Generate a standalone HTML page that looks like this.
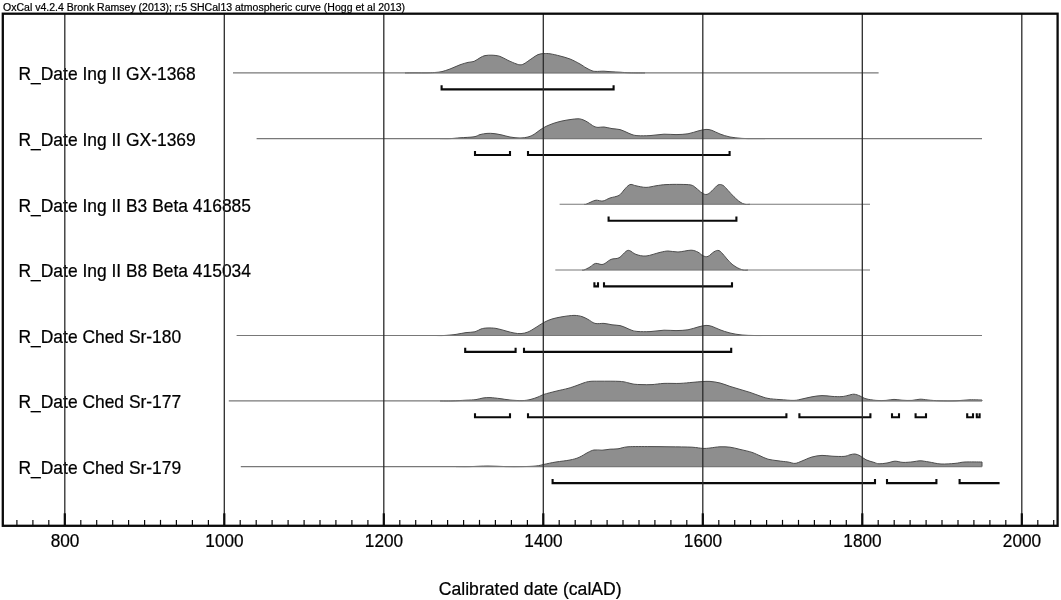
<!DOCTYPE html>
<html lang="en">
<head>
<meta charset="utf-8">
<title>OxCal multiplot</title>
<style>
html,body{margin:0;padding:0;background:#fff;}
body{width:1061px;height:600px;overflow:hidden;}
svg{display:block;filter:blur(0.35px);}
text{font-family:"Liberation Sans", Arial, Helvetica, sans-serif;fill:#000;stroke:#000;stroke-width:0.22px;}
</style>
</head>
<body>
<svg width="1061" height="600" viewBox="0 0 1061 600">
<rect x="0" y="0" width="1061" height="600" fill="#fff"/>
<g>
<path d="M405.0,72.9C406.7,72.9 411.2,72.8 415.0,72.8C418.8,72.8 424.5,72.9 428.0,72.8C431.5,72.7 433.7,72.6 436.0,72.4C438.3,72.2 439.7,72.2 442.0,71.6C444.3,71.0 447.0,70.1 450.0,69.0C453.0,67.9 457.0,65.9 460.0,64.8C463.0,63.7 465.7,63.0 468.0,62.4C470.3,61.8 472.0,62.2 474.0,61.4C476.0,60.6 478.2,58.8 480.0,57.8C481.8,56.8 483.0,56.0 485.0,55.6C487.0,55.2 489.5,55.1 492.0,55.2C494.5,55.3 497.3,55.5 500.0,56.4C502.7,57.3 505.3,59.2 508.0,60.4C510.7,61.6 514.0,63.1 516.0,63.8C518.0,64.5 518.7,64.8 520.0,64.8C521.3,64.8 522.0,64.9 524.0,63.8C526.0,62.7 529.7,59.9 532.0,58.4C534.3,56.9 536.0,55.4 538.0,54.6C540.0,53.8 542.0,53.7 544.0,53.6C546.0,53.5 547.3,53.4 550.0,53.8C552.7,54.2 556.7,55.1 560.0,56.0C563.3,56.9 566.7,57.7 570.0,59.0C573.3,60.3 577.3,62.5 580.0,64.0C582.7,65.5 584.0,66.7 586.0,67.8C588.0,68.9 590.3,70.2 592.0,70.8C593.7,71.4 594.0,71.3 596.0,71.4C598.0,71.5 601.3,71.1 604.0,71.2C606.7,71.3 609.3,71.6 612.0,71.8C614.7,72.0 617.0,72.0 620.0,72.2C623.0,72.4 625.8,72.7 630.0,72.8C634.2,72.9 642.5,72.9 645.0,72.9L645.0,73.2 L405.0,73.2 Z" fill="#8e8e8e" stroke="none"/>
<path d="M405.0,72.9C406.7,72.9 411.2,72.8 415.0,72.8C418.8,72.8 424.5,72.9 428.0,72.8C431.5,72.7 433.7,72.6 436.0,72.4C438.3,72.2 439.7,72.2 442.0,71.6C444.3,71.0 447.0,70.1 450.0,69.0C453.0,67.9 457.0,65.9 460.0,64.8C463.0,63.7 465.7,63.0 468.0,62.4C470.3,61.8 472.0,62.2 474.0,61.4C476.0,60.6 478.2,58.8 480.0,57.8C481.8,56.8 483.0,56.0 485.0,55.6C487.0,55.2 489.5,55.1 492.0,55.2C494.5,55.3 497.3,55.5 500.0,56.4C502.7,57.3 505.3,59.2 508.0,60.4C510.7,61.6 514.0,63.1 516.0,63.8C518.0,64.5 518.7,64.8 520.0,64.8C521.3,64.8 522.0,64.9 524.0,63.8C526.0,62.7 529.7,59.9 532.0,58.4C534.3,56.9 536.0,55.4 538.0,54.6C540.0,53.8 542.0,53.7 544.0,53.6C546.0,53.5 547.3,53.4 550.0,53.8C552.7,54.2 556.7,55.1 560.0,56.0C563.3,56.9 566.7,57.7 570.0,59.0C573.3,60.3 577.3,62.5 580.0,64.0C582.7,65.5 584.0,66.7 586.0,67.8C588.0,68.9 590.3,70.2 592.0,70.8C593.7,71.4 594.0,71.3 596.0,71.4C598.0,71.5 601.3,71.1 604.0,71.2C606.7,71.3 609.3,71.6 612.0,71.8C614.7,72.0 617.0,72.0 620.0,72.2C623.0,72.4 625.8,72.7 630.0,72.8C634.2,72.9 642.5,72.9 645.0,72.9" fill="none" stroke="#4c4c4c" stroke-width="1" stroke-linejoin="round"/>
<line x1="233.0" y1="72.9" x2="878.6" y2="72.9" stroke="#787878" stroke-width="1.1"/>
<path d="M441.6,85.2 V89.4 H613.6 V85.2" fill="none" stroke="#0a0a0a" stroke-width="2.1"/>
<text transform="translate(18.5,80.1) scale(1.002,1.05)" font-size="17.4">R_Date Ing II GX-1368</text>
</g>
<g>
<path d="M440.0,138.6C441.7,138.6 446.7,138.7 450.0,138.6C453.3,138.5 456.0,138.1 460.0,137.8C464.0,137.5 470.7,137.3 474.0,136.8C477.3,136.3 477.8,135.2 480.0,134.6C482.2,134.0 484.7,133.6 487.0,133.4C489.3,133.2 491.5,133.3 494.0,133.6C496.5,133.9 499.3,134.4 502.0,135.0C504.7,135.6 507.0,136.5 510.0,137.0C513.0,137.5 517.0,138.0 520.0,138.0C523.0,138.0 525.7,137.6 528.0,137.0C530.3,136.4 532.0,135.6 534.0,134.4C536.0,133.2 538.0,131.3 540.0,130.0C542.0,128.7 543.7,127.5 546.0,126.4C548.3,125.3 551.3,124.1 554.0,123.2C556.7,122.3 559.3,121.6 562.0,121.0C564.7,120.4 567.3,120.0 570.0,119.6C572.7,119.2 575.8,118.8 578.0,118.8C580.2,118.8 581.3,119.2 583.0,119.8C584.7,120.4 586.2,121.3 588.0,122.4C589.8,123.5 592.3,125.6 594.0,126.4C595.7,127.2 596.3,127.3 598.0,127.4C599.7,127.5 601.7,126.8 604.0,127.0C606.3,127.2 609.3,128.2 612.0,128.6C614.7,129.0 617.7,129.0 620.0,129.6C622.3,130.2 624.0,131.2 626.0,132.0C628.0,132.8 630.0,134.0 632.0,134.6C634.0,135.2 635.0,135.5 638.0,135.7C641.0,135.9 645.7,135.8 650.0,135.6C654.3,135.3 659.7,134.4 664.0,134.2C668.3,134.0 672.0,134.7 676.0,134.6C680.0,134.5 684.3,134.4 688.0,133.8C691.7,133.2 695.0,131.7 698.0,131.0C701.0,130.3 703.7,129.5 706.0,129.4C708.3,129.3 709.7,129.6 712.0,130.4C714.3,131.2 717.0,132.9 720.0,134.0C723.0,135.1 726.3,136.3 730.0,137.0C733.7,137.7 738.0,138.1 742.0,138.4C746.0,138.7 750.2,138.6 754.0,138.6C757.8,138.6 763.2,138.6 765.0,138.6L765.0,138.9 L440.0,138.9 Z" fill="#8e8e8e" stroke="none"/>
<path d="M440.0,138.6C441.7,138.6 446.7,138.7 450.0,138.6C453.3,138.5 456.0,138.1 460.0,137.8C464.0,137.5 470.7,137.3 474.0,136.8C477.3,136.3 477.8,135.2 480.0,134.6C482.2,134.0 484.7,133.6 487.0,133.4C489.3,133.2 491.5,133.3 494.0,133.6C496.5,133.9 499.3,134.4 502.0,135.0C504.7,135.6 507.0,136.5 510.0,137.0C513.0,137.5 517.0,138.0 520.0,138.0C523.0,138.0 525.7,137.6 528.0,137.0C530.3,136.4 532.0,135.6 534.0,134.4C536.0,133.2 538.0,131.3 540.0,130.0C542.0,128.7 543.7,127.5 546.0,126.4C548.3,125.3 551.3,124.1 554.0,123.2C556.7,122.3 559.3,121.6 562.0,121.0C564.7,120.4 567.3,120.0 570.0,119.6C572.7,119.2 575.8,118.8 578.0,118.8C580.2,118.8 581.3,119.2 583.0,119.8C584.7,120.4 586.2,121.3 588.0,122.4C589.8,123.5 592.3,125.6 594.0,126.4C595.7,127.2 596.3,127.3 598.0,127.4C599.7,127.5 601.7,126.8 604.0,127.0C606.3,127.2 609.3,128.2 612.0,128.6C614.7,129.0 617.7,129.0 620.0,129.6C622.3,130.2 624.0,131.2 626.0,132.0C628.0,132.8 630.0,134.0 632.0,134.6C634.0,135.2 635.0,135.5 638.0,135.7C641.0,135.9 645.7,135.8 650.0,135.6C654.3,135.3 659.7,134.4 664.0,134.2C668.3,134.0 672.0,134.7 676.0,134.6C680.0,134.5 684.3,134.4 688.0,133.8C691.7,133.2 695.0,131.7 698.0,131.0C701.0,130.3 703.7,129.5 706.0,129.4C708.3,129.3 709.7,129.6 712.0,130.4C714.3,131.2 717.0,132.9 720.0,134.0C723.0,135.1 726.3,136.3 730.0,137.0C733.7,137.7 738.0,138.1 742.0,138.4C746.0,138.7 750.2,138.6 754.0,138.6C757.8,138.6 763.2,138.6 765.0,138.6" fill="none" stroke="#4c4c4c" stroke-width="1" stroke-linejoin="round"/>
<line x1="256.6" y1="138.6" x2="982.0" y2="138.6" stroke="#787878" stroke-width="1.1"/>
<path d="M475.0,150.9 V155.0 H510.0 V150.9" fill="none" stroke="#0a0a0a" stroke-width="2.1"/>
<path d="M528.0,150.9 V155.0 H729.6 V150.9" fill="none" stroke="#0a0a0a" stroke-width="2.1"/>
<text transform="translate(18.5,145.8) scale(1.002,1.05)" font-size="17.4">R_Date Ing II GX-1369</text>
</g>
<g>
<path d="M584.0,204.3C584.3,204.3 584.8,204.7 586.0,204.3C587.2,203.9 589.3,202.7 591.0,202.0C592.7,201.3 594.0,200.4 596.0,200.2C598.0,200.0 600.7,201.4 603.0,201.0C605.3,200.6 607.3,198.9 610.0,198.0C612.7,197.1 616.7,196.7 619.0,195.4C621.3,194.1 622.5,191.6 624.0,190.0C625.5,188.4 626.8,186.7 628.0,185.8C629.2,184.9 629.7,184.4 631.0,184.4C632.3,184.4 633.5,185.3 636.0,185.8C638.5,186.3 642.7,187.4 646.0,187.4C649.3,187.4 652.7,186.3 656.0,185.8C659.3,185.3 662.0,184.8 666.0,184.6C670.0,184.4 675.8,184.3 680.0,184.4C684.2,184.5 688.3,184.4 691.0,185.0C693.7,185.6 694.2,186.7 696.0,188.0C697.8,189.3 700.2,191.9 702.0,193.0C703.8,194.1 705.3,194.8 707.0,194.4C708.7,194.0 710.2,192.4 712.0,190.8C713.8,189.2 716.2,185.9 718.0,185.0C719.8,184.1 721.3,184.5 723.0,185.4C724.7,186.3 726.2,188.5 728.0,190.4C729.8,192.3 732.0,194.9 734.0,196.8C736.0,198.7 738.2,200.8 740.0,202.0C741.8,203.2 743.3,203.9 745.0,204.3C746.7,204.7 749.2,204.3 750.0,204.3L750.0,204.6 L584.0,204.6 Z" fill="#8e8e8e" stroke="none"/>
<path d="M584.0,204.3C584.3,204.3 584.8,204.7 586.0,204.3C587.2,203.9 589.3,202.7 591.0,202.0C592.7,201.3 594.0,200.4 596.0,200.2C598.0,200.0 600.7,201.4 603.0,201.0C605.3,200.6 607.3,198.9 610.0,198.0C612.7,197.1 616.7,196.7 619.0,195.4C621.3,194.1 622.5,191.6 624.0,190.0C625.5,188.4 626.8,186.7 628.0,185.8C629.2,184.9 629.7,184.4 631.0,184.4C632.3,184.4 633.5,185.3 636.0,185.8C638.5,186.3 642.7,187.4 646.0,187.4C649.3,187.4 652.7,186.3 656.0,185.8C659.3,185.3 662.0,184.8 666.0,184.6C670.0,184.4 675.8,184.3 680.0,184.4C684.2,184.5 688.3,184.4 691.0,185.0C693.7,185.6 694.2,186.7 696.0,188.0C697.8,189.3 700.2,191.9 702.0,193.0C703.8,194.1 705.3,194.8 707.0,194.4C708.7,194.0 710.2,192.4 712.0,190.8C713.8,189.2 716.2,185.9 718.0,185.0C719.8,184.1 721.3,184.5 723.0,185.4C724.7,186.3 726.2,188.5 728.0,190.4C729.8,192.3 732.0,194.9 734.0,196.8C736.0,198.7 738.2,200.8 740.0,202.0C741.8,203.2 743.3,203.9 745.0,204.3C746.7,204.7 749.2,204.3 750.0,204.3" fill="none" stroke="#4c4c4c" stroke-width="1" stroke-linejoin="round"/>
<line x1="559.6" y1="204.3" x2="870.0" y2="204.3" stroke="#787878" stroke-width="1.1"/>
<path d="M608.6,216.6 V220.8 H736.4 V216.6" fill="none" stroke="#0a0a0a" stroke-width="2.1"/>
<text transform="translate(18.5,211.5) scale(1.002,1.05)" font-size="17.4">R_Date Ing II B3 Beta 416885</text>
</g>
<g>
<path d="M582.0,270.0C582.3,270.0 582.7,270.5 584.0,270.0C585.3,269.5 588.1,268.1 590.0,267.0C591.9,265.9 593.4,263.8 595.6,263.4C597.8,263.0 600.4,265.1 603.0,264.4C605.6,263.7 608.3,260.5 611.0,259.4C613.7,258.3 616.5,259.1 619.0,257.8C621.5,256.5 624.2,252.6 626.0,251.4C627.8,250.2 627.9,250.1 629.6,250.6C631.3,251.1 633.3,253.5 636.0,254.4C638.7,255.3 642.0,256.3 646.0,256.0C650.0,255.7 656.3,253.2 660.0,252.4C663.7,251.6 665.0,251.1 668.0,251.0C671.0,250.9 674.2,252.1 678.0,252.0C681.8,251.9 687.7,250.2 691.0,250.2C694.3,250.2 696.0,251.3 698.0,252.2C700.0,253.1 701.3,255.1 703.0,255.8C704.7,256.5 706.2,257.1 708.0,256.4C709.8,255.7 712.2,252.8 714.0,251.8C715.8,250.8 717.3,250.0 719.0,250.6C720.7,251.2 722.2,253.4 724.0,255.4C725.8,257.4 728.0,260.5 730.0,262.4C732.0,264.3 733.8,265.7 736.0,267.0C738.2,268.3 741.0,269.5 743.0,270.0C745.0,270.5 747.2,270.0 748.0,270.0L748.0,270.3 L582.0,270.3 Z" fill="#8e8e8e" stroke="none"/>
<path d="M582.0,270.0C582.3,270.0 582.7,270.5 584.0,270.0C585.3,269.5 588.1,268.1 590.0,267.0C591.9,265.9 593.4,263.8 595.6,263.4C597.8,263.0 600.4,265.1 603.0,264.4C605.6,263.7 608.3,260.5 611.0,259.4C613.7,258.3 616.5,259.1 619.0,257.8C621.5,256.5 624.2,252.6 626.0,251.4C627.8,250.2 627.9,250.1 629.6,250.6C631.3,251.1 633.3,253.5 636.0,254.4C638.7,255.3 642.0,256.3 646.0,256.0C650.0,255.7 656.3,253.2 660.0,252.4C663.7,251.6 665.0,251.1 668.0,251.0C671.0,250.9 674.2,252.1 678.0,252.0C681.8,251.9 687.7,250.2 691.0,250.2C694.3,250.2 696.0,251.3 698.0,252.2C700.0,253.1 701.3,255.1 703.0,255.8C704.7,256.5 706.2,257.1 708.0,256.4C709.8,255.7 712.2,252.8 714.0,251.8C715.8,250.8 717.3,250.0 719.0,250.6C720.7,251.2 722.2,253.4 724.0,255.4C725.8,257.4 728.0,260.5 730.0,262.4C732.0,264.3 733.8,265.7 736.0,267.0C738.2,268.3 741.0,269.5 743.0,270.0C745.0,270.5 747.2,270.0 748.0,270.0" fill="none" stroke="#4c4c4c" stroke-width="1" stroke-linejoin="round"/>
<line x1="555.3" y1="270.0" x2="870.0" y2="270.0" stroke="#787878" stroke-width="1.1"/>
<path d="M594.4,282.3 V286.4 H598.0 V282.3" fill="none" stroke="#0a0a0a" stroke-width="2.1"/>
<path d="M604.0,282.3 V286.4 H732.0 V282.3" fill="none" stroke="#0a0a0a" stroke-width="2.1"/>
<text transform="translate(18.5,277.1) scale(1.002,1.05)" font-size="17.4">R_Date Ing II B8 Beta 415034</text>
</g>
<g>
<path d="M435.0,335.5C436.5,335.5 440.5,335.7 444.0,335.5C447.5,335.3 452.3,334.9 456.0,334.4C459.7,333.9 462.8,333.0 466.0,332.6C469.2,332.2 472.5,332.4 475.0,331.8C477.5,331.2 479.0,329.6 481.0,329.0C483.0,328.4 484.5,328.1 487.0,328.0C489.5,327.9 492.8,327.9 496.0,328.4C499.2,328.9 503.0,330.2 506.0,331.0C509.0,331.8 511.5,332.6 514.0,333.0C516.5,333.4 518.7,333.8 521.0,333.6C523.3,333.4 525.5,333.0 528.0,332.0C530.5,331.0 533.3,329.0 536.0,327.4C538.7,325.8 541.3,323.8 544.0,322.4C546.7,321.0 549.0,319.9 552.0,319.0C555.0,318.1 558.3,317.4 562.0,316.8C565.7,316.2 570.7,315.4 574.0,315.4C577.3,315.4 579.7,315.9 582.0,316.6C584.3,317.3 585.8,318.3 588.0,319.4C590.2,320.5 592.3,322.7 595.0,323.4C597.7,324.1 601.2,323.2 604.0,323.4C606.8,323.6 609.3,324.4 612.0,324.8C614.7,325.2 617.7,325.1 620.0,325.6C622.3,326.1 624.0,327.0 626.0,327.8C628.0,328.6 630.0,329.8 632.0,330.4C634.0,331.0 635.0,331.3 638.0,331.5C641.0,331.7 645.7,331.8 650.0,331.6C654.3,331.4 659.7,330.4 664.0,330.2C668.3,330.0 672.0,330.7 676.0,330.6C680.0,330.5 684.3,330.4 688.0,329.8C691.7,329.2 695.0,327.7 698.0,327.0C701.0,326.3 703.7,325.5 706.0,325.4C708.3,325.3 709.7,325.7 712.0,326.4C714.3,327.1 717.0,328.7 720.0,329.8C723.0,330.9 726.3,332.1 730.0,333.0C733.7,333.9 738.0,334.6 742.0,335.0C746.0,335.4 750.2,335.4 754.0,335.5C757.8,335.6 763.2,335.5 765.0,335.5L765.0,335.8 L435.0,335.8 Z" fill="#8e8e8e" stroke="none"/>
<path d="M435.0,335.5C436.5,335.5 440.5,335.7 444.0,335.5C447.5,335.3 452.3,334.9 456.0,334.4C459.7,333.9 462.8,333.0 466.0,332.6C469.2,332.2 472.5,332.4 475.0,331.8C477.5,331.2 479.0,329.6 481.0,329.0C483.0,328.4 484.5,328.1 487.0,328.0C489.5,327.9 492.8,327.9 496.0,328.4C499.2,328.9 503.0,330.2 506.0,331.0C509.0,331.8 511.5,332.6 514.0,333.0C516.5,333.4 518.7,333.8 521.0,333.6C523.3,333.4 525.5,333.0 528.0,332.0C530.5,331.0 533.3,329.0 536.0,327.4C538.7,325.8 541.3,323.8 544.0,322.4C546.7,321.0 549.0,319.9 552.0,319.0C555.0,318.1 558.3,317.4 562.0,316.8C565.7,316.2 570.7,315.4 574.0,315.4C577.3,315.4 579.7,315.9 582.0,316.6C584.3,317.3 585.8,318.3 588.0,319.4C590.2,320.5 592.3,322.7 595.0,323.4C597.7,324.1 601.2,323.2 604.0,323.4C606.8,323.6 609.3,324.4 612.0,324.8C614.7,325.2 617.7,325.1 620.0,325.6C622.3,326.1 624.0,327.0 626.0,327.8C628.0,328.6 630.0,329.8 632.0,330.4C634.0,331.0 635.0,331.3 638.0,331.5C641.0,331.7 645.7,331.8 650.0,331.6C654.3,331.4 659.7,330.4 664.0,330.2C668.3,330.0 672.0,330.7 676.0,330.6C680.0,330.5 684.3,330.4 688.0,329.8C691.7,329.2 695.0,327.7 698.0,327.0C701.0,326.3 703.7,325.5 706.0,325.4C708.3,325.3 709.7,325.7 712.0,326.4C714.3,327.1 717.0,328.7 720.0,329.8C723.0,330.9 726.3,332.1 730.0,333.0C733.7,333.9 738.0,334.6 742.0,335.0C746.0,335.4 750.2,335.4 754.0,335.5C757.8,335.6 763.2,335.5 765.0,335.5" fill="none" stroke="#4c4c4c" stroke-width="1" stroke-linejoin="round"/>
<line x1="236.6" y1="335.5" x2="982.0" y2="335.5" stroke="#787878" stroke-width="1.1"/>
<path d="M465.2,347.8 V351.9 H515.6 V347.8" fill="none" stroke="#0a0a0a" stroke-width="2.1"/>
<path d="M524.0,347.8 V351.9 H731.2 V347.8" fill="none" stroke="#0a0a0a" stroke-width="2.1"/>
<text transform="translate(18.5,342.6) scale(1.002,1.05)" font-size="17.4">R_Date Ched Sr-180</text>
</g>
<g>
<path d="M440.0,400.9C442.0,400.9 447.7,401.0 452.0,400.9C456.3,400.8 462.0,400.4 466.0,400.2C470.0,400.0 473.2,400.0 476.0,399.6C478.8,399.2 480.7,398.3 483.0,398.0C485.3,397.7 487.2,397.5 490.0,397.6C492.8,397.7 496.7,398.2 500.0,398.6C503.3,399.0 506.3,399.7 510.0,400.0C513.7,400.3 518.7,400.7 522.0,400.6C525.3,400.5 527.3,400.2 530.0,399.6C532.7,399.0 535.7,397.9 538.0,397.0C540.3,396.1 541.0,395.4 544.0,394.4C547.0,393.4 552.0,392.2 556.0,391.2C560.0,390.2 564.7,389.3 568.0,388.4C571.3,387.5 573.3,386.7 576.0,385.8C578.7,384.9 581.7,383.5 584.0,382.8C586.3,382.1 587.3,381.7 590.0,381.4C592.7,381.1 595.0,381.2 600.0,381.2C605.0,381.2 615.3,381.1 620.0,381.4C624.7,381.7 625.7,382.3 628.0,382.8C630.3,383.3 631.7,383.9 634.0,384.2C636.3,384.5 639.0,384.5 642.0,384.6C645.0,384.7 648.3,384.8 652.0,384.6C655.7,384.4 659.3,383.6 664.0,383.4C668.7,383.2 675.3,383.6 680.0,383.4C684.7,383.2 688.3,382.7 692.0,382.4C695.7,382.1 699.0,381.8 702.0,381.6C705.0,381.4 707.0,381.2 710.0,381.4C713.0,381.6 716.7,382.2 720.0,383.0C723.3,383.8 726.7,385.3 730.0,386.4C733.3,387.5 736.7,388.4 740.0,389.4C743.3,390.4 746.7,391.3 750.0,392.4C753.3,393.5 757.0,395.0 760.0,396.0C763.0,397.0 764.7,397.8 768.0,398.4C771.3,399.0 775.7,399.3 780.0,399.6C784.3,399.9 790.3,400.5 794.0,400.4C797.7,400.3 799.0,399.6 802.0,399.0C805.0,398.4 808.7,397.4 812.0,396.8C815.3,396.2 818.7,395.7 822.0,395.6C825.3,395.5 828.7,396.2 832.0,396.4C835.3,396.6 839.3,396.8 842.0,396.6C844.7,396.4 846.0,395.8 848.0,395.4C850.0,395.0 852.0,394.1 854.0,394.2C856.0,394.3 858.0,395.2 860.0,396.0C862.0,396.8 863.3,398.1 866.0,398.8C868.7,399.5 872.7,400.1 876.0,400.4C879.3,400.7 883.0,400.6 886.0,400.4C889.0,400.2 891.3,399.4 894.0,399.4C896.7,399.4 899.0,400.0 902.0,400.2C905.0,400.4 909.0,400.6 912.0,400.4C915.0,400.2 917.3,399.3 920.0,399.2C922.7,399.1 924.7,399.7 928.0,400.0C931.3,400.3 935.3,400.7 940.0,400.8C944.7,400.9 951.0,401.0 956.0,400.8C961.0,400.6 965.7,399.9 970.0,399.8C974.3,399.7 980.0,400.0 982.0,400.0L982.0,401.2 L440.0,401.2 Z" fill="#8e8e8e" stroke="none"/>
<path d="M440.0,400.9C442.0,400.9 447.7,401.0 452.0,400.9C456.3,400.8 462.0,400.4 466.0,400.2C470.0,400.0 473.2,400.0 476.0,399.6C478.8,399.2 480.7,398.3 483.0,398.0C485.3,397.7 487.2,397.5 490.0,397.6C492.8,397.7 496.7,398.2 500.0,398.6C503.3,399.0 506.3,399.7 510.0,400.0C513.7,400.3 518.7,400.7 522.0,400.6C525.3,400.5 527.3,400.2 530.0,399.6C532.7,399.0 535.7,397.9 538.0,397.0C540.3,396.1 541.0,395.4 544.0,394.4C547.0,393.4 552.0,392.2 556.0,391.2C560.0,390.2 564.7,389.3 568.0,388.4C571.3,387.5 573.3,386.7 576.0,385.8C578.7,384.9 581.7,383.5 584.0,382.8C586.3,382.1 587.3,381.7 590.0,381.4C592.7,381.1 595.0,381.2 600.0,381.2C605.0,381.2 615.3,381.1 620.0,381.4C624.7,381.7 625.7,382.3 628.0,382.8C630.3,383.3 631.7,383.9 634.0,384.2C636.3,384.5 639.0,384.5 642.0,384.6C645.0,384.7 648.3,384.8 652.0,384.6C655.7,384.4 659.3,383.6 664.0,383.4C668.7,383.2 675.3,383.6 680.0,383.4C684.7,383.2 688.3,382.7 692.0,382.4C695.7,382.1 699.0,381.8 702.0,381.6C705.0,381.4 707.0,381.2 710.0,381.4C713.0,381.6 716.7,382.2 720.0,383.0C723.3,383.8 726.7,385.3 730.0,386.4C733.3,387.5 736.7,388.4 740.0,389.4C743.3,390.4 746.7,391.3 750.0,392.4C753.3,393.5 757.0,395.0 760.0,396.0C763.0,397.0 764.7,397.8 768.0,398.4C771.3,399.0 775.7,399.3 780.0,399.6C784.3,399.9 790.3,400.5 794.0,400.4C797.7,400.3 799.0,399.6 802.0,399.0C805.0,398.4 808.7,397.4 812.0,396.8C815.3,396.2 818.7,395.7 822.0,395.6C825.3,395.5 828.7,396.2 832.0,396.4C835.3,396.6 839.3,396.8 842.0,396.6C844.7,396.4 846.0,395.8 848.0,395.4C850.0,395.0 852.0,394.1 854.0,394.2C856.0,394.3 858.0,395.2 860.0,396.0C862.0,396.8 863.3,398.1 866.0,398.8C868.7,399.5 872.7,400.1 876.0,400.4C879.3,400.7 883.0,400.6 886.0,400.4C889.0,400.2 891.3,399.4 894.0,399.4C896.7,399.4 899.0,400.0 902.0,400.2C905.0,400.4 909.0,400.6 912.0,400.4C915.0,400.2 917.3,399.3 920.0,399.2C922.7,399.1 924.7,399.7 928.0,400.0C931.3,400.3 935.3,400.7 940.0,400.8C944.7,400.9 951.0,401.0 956.0,400.8C961.0,400.6 965.7,399.9 970.0,399.8C974.3,399.7 980.0,400.0 982.0,400.0L982.0,400.9" fill="none" stroke="#4c4c4c" stroke-width="1" stroke-linejoin="round"/>
<line x1="228.8" y1="400.9" x2="982.0" y2="400.9" stroke="#787878" stroke-width="1.1"/>
<path d="M475.0,413.2 V417.3 H510.0 V413.2" fill="none" stroke="#0a0a0a" stroke-width="2.1"/>
<path d="M528.0,413.2 V417.3 H786.4 V413.2" fill="none" stroke="#0a0a0a" stroke-width="2.1"/>
<path d="M799.4,413.2 V417.3 H870.4 V413.2" fill="none" stroke="#0a0a0a" stroke-width="2.1"/>
<path d="M892.0,413.2 V417.3 H899.0 V413.2" fill="none" stroke="#0a0a0a" stroke-width="2.1"/>
<path d="M915.6,413.2 V417.3 H926.0 V413.2" fill="none" stroke="#0a0a0a" stroke-width="2.1"/>
<path d="M967.2,413.2 V417.3 H973.0 V413.2" fill="none" stroke="#0a0a0a" stroke-width="2.1"/>
<path d="M976.8,413.2 V417.3 H979.6 V413.2" fill="none" stroke="#0a0a0a" stroke-width="2.1"/>
<text transform="translate(18.5,408.0) scale(1.002,1.05)" font-size="17.4">R_Date Ched Sr-177</text>
</g>
<g>
<path d="M456.0,466.6C458.3,466.6 464.7,466.7 470.0,466.6C475.3,466.5 482.0,466.0 488.0,466.0C494.0,466.0 500.3,466.5 506.0,466.6C511.7,466.7 517.0,466.7 522.0,466.6C527.0,466.5 532.3,466.4 536.0,466.0C539.7,465.6 540.7,465.1 544.0,464.4C547.3,463.7 551.7,462.7 556.0,462.0C560.3,461.3 566.2,460.8 570.0,460.0C573.8,459.2 576.0,458.7 579.0,457.4C582.0,456.1 585.5,453.6 588.0,452.4C590.5,451.2 591.7,450.4 594.0,450.0C596.3,449.6 599.3,450.3 602.0,450.2C604.7,450.1 607.3,449.4 610.0,449.2C612.7,449.0 615.0,449.2 618.0,448.8C621.0,448.4 622.7,447.2 628.0,446.8C633.3,446.4 643.0,446.6 650.0,446.6C657.0,446.6 663.0,446.7 670.0,446.8C677.0,446.9 686.5,446.9 692.0,447.2C697.5,447.5 700.0,448.3 703.0,448.4C706.0,448.5 707.2,448.3 710.0,448.0C712.8,447.7 716.7,446.9 720.0,446.8C723.3,446.7 726.7,446.8 730.0,447.2C733.3,447.6 736.3,448.5 740.0,449.4C743.7,450.3 748.7,451.3 752.0,452.4C755.3,453.5 757.3,454.7 760.0,455.8C762.7,456.9 765.0,458.4 768.0,459.2C771.0,460.0 774.7,460.3 778.0,460.8C781.3,461.3 785.2,461.6 788.0,462.0C790.8,462.4 792.7,463.6 795.0,463.4C797.3,463.2 799.2,462.1 802.0,461.0C804.8,459.9 808.7,457.9 812.0,457.0C815.3,456.1 818.7,455.5 822.0,455.4C825.3,455.3 828.3,456.0 832.0,456.2C835.7,456.4 841.0,456.6 844.0,456.4C847.0,456.2 848.2,455.2 850.0,454.8C851.8,454.4 853.3,453.8 855.0,454.0C856.7,454.2 858.2,454.8 860.0,455.8C861.8,456.8 863.7,458.7 866.0,459.8C868.3,460.9 871.8,461.7 874.0,462.4C876.2,463.1 876.8,463.7 879.0,463.8C881.2,463.9 884.3,463.4 887.0,463.0C889.7,462.6 892.3,461.3 895.0,461.2C897.7,461.1 900.0,462.3 903.0,462.4C906.0,462.5 910.2,462.1 913.0,461.8C915.8,461.5 917.3,460.8 920.0,460.8C922.7,460.8 925.5,461.5 929.0,462.0C932.5,462.5 936.7,463.8 941.0,464.0C945.3,464.2 951.0,463.7 955.0,463.4C959.0,463.1 960.5,462.2 965.0,462.0C969.5,461.8 979.2,462.0 982.0,462.0L982.0,466.9 L456.0,466.9 Z" fill="#8e8e8e" stroke="none"/>
<path d="M456.0,466.6C458.3,466.6 464.7,466.7 470.0,466.6C475.3,466.5 482.0,466.0 488.0,466.0C494.0,466.0 500.3,466.5 506.0,466.6C511.7,466.7 517.0,466.7 522.0,466.6C527.0,466.5 532.3,466.4 536.0,466.0C539.7,465.6 540.7,465.1 544.0,464.4C547.3,463.7 551.7,462.7 556.0,462.0C560.3,461.3 566.2,460.8 570.0,460.0C573.8,459.2 576.0,458.7 579.0,457.4C582.0,456.1 585.5,453.6 588.0,452.4C590.5,451.2 591.7,450.4 594.0,450.0C596.3,449.6 599.3,450.3 602.0,450.2C604.7,450.1 607.3,449.4 610.0,449.2C612.7,449.0 615.0,449.2 618.0,448.8C621.0,448.4 622.7,447.2 628.0,446.8C633.3,446.4 643.0,446.6 650.0,446.6C657.0,446.6 663.0,446.7 670.0,446.8C677.0,446.9 686.5,446.9 692.0,447.2C697.5,447.5 700.0,448.3 703.0,448.4C706.0,448.5 707.2,448.3 710.0,448.0C712.8,447.7 716.7,446.9 720.0,446.8C723.3,446.7 726.7,446.8 730.0,447.2C733.3,447.6 736.3,448.5 740.0,449.4C743.7,450.3 748.7,451.3 752.0,452.4C755.3,453.5 757.3,454.7 760.0,455.8C762.7,456.9 765.0,458.4 768.0,459.2C771.0,460.0 774.7,460.3 778.0,460.8C781.3,461.3 785.2,461.6 788.0,462.0C790.8,462.4 792.7,463.6 795.0,463.4C797.3,463.2 799.2,462.1 802.0,461.0C804.8,459.9 808.7,457.9 812.0,457.0C815.3,456.1 818.7,455.5 822.0,455.4C825.3,455.3 828.3,456.0 832.0,456.2C835.7,456.4 841.0,456.6 844.0,456.4C847.0,456.2 848.2,455.2 850.0,454.8C851.8,454.4 853.3,453.8 855.0,454.0C856.7,454.2 858.2,454.8 860.0,455.8C861.8,456.8 863.7,458.7 866.0,459.8C868.3,460.9 871.8,461.7 874.0,462.4C876.2,463.1 876.8,463.7 879.0,463.8C881.2,463.9 884.3,463.4 887.0,463.0C889.7,462.6 892.3,461.3 895.0,461.2C897.7,461.1 900.0,462.3 903.0,462.4C906.0,462.5 910.2,462.1 913.0,461.8C915.8,461.5 917.3,460.8 920.0,460.8C922.7,460.8 925.5,461.5 929.0,462.0C932.5,462.5 936.7,463.8 941.0,464.0C945.3,464.2 951.0,463.7 955.0,463.4C959.0,463.1 960.5,462.2 965.0,462.0C969.5,461.8 979.2,462.0 982.0,462.0L982.0,466.6" fill="none" stroke="#4c4c4c" stroke-width="1" stroke-linejoin="round"/>
<line x1="240.8" y1="466.6" x2="982.0" y2="466.6" stroke="#787878" stroke-width="1.1"/>
<path d="M552.6,478.9 V483.1 H875.0 V478.9" fill="none" stroke="#0a0a0a" stroke-width="2.1"/>
<path d="M887.0,478.9 V483.1 H936.4 V478.9" fill="none" stroke="#0a0a0a" stroke-width="2.1"/>
<path d="M959.6,478.9 V483.1 H999.6" fill="none" stroke="#0a0a0a" stroke-width="2.1"/>
<text transform="translate(18.5,473.8) scale(1.002,1.05)" font-size="17.4">R_Date Ched Sr-179</text>
</g>
<g stroke="#2b2b2b" stroke-width="1.3">
<line x1="64.8" y1="14" x2="64.8" y2="525.5" />
<line x1="224.3" y1="14" x2="224.3" y2="525.5" />
<line x1="383.8" y1="14" x2="383.8" y2="525.5" />
<line x1="543.3" y1="14" x2="543.3" y2="525.5" />
<line x1="702.8" y1="14" x2="702.8" y2="525.5" />
<line x1="862.3" y1="14" x2="862.3" y2="525.5" />
<line x1="1021.8" y1="14" x2="1021.8" y2="525.5" />
</g>
<rect x="2.8" y="13.7" width="1054.8" height="512.1" fill="none" stroke="#0a0a0a" stroke-width="2.3"/>
<g stroke="#0a0a0a">
<line x1="16.9" y1="519.9" x2="16.9" y2="525.5" stroke-width="1.2"/>
<line x1="32.9" y1="519.9" x2="32.9" y2="525.5" stroke-width="1.2"/>
<line x1="48.8" y1="519.9" x2="48.8" y2="525.5" stroke-width="1.2"/>
<line x1="64.8" y1="513.3" x2="64.8" y2="525.5" stroke-width="2.2"/>
<line x1="80.8" y1="519.9" x2="80.8" y2="525.5" stroke-width="1.2"/>
<line x1="96.7" y1="519.9" x2="96.7" y2="525.5" stroke-width="1.2"/>
<line x1="112.7" y1="519.9" x2="112.7" y2="525.5" stroke-width="1.2"/>
<line x1="128.6" y1="519.9" x2="128.6" y2="525.5" stroke-width="1.2"/>
<line x1="144.6" y1="519.9" x2="144.6" y2="525.5" stroke-width="1.2"/>
<line x1="160.5" y1="519.9" x2="160.5" y2="525.5" stroke-width="1.2"/>
<line x1="176.4" y1="519.9" x2="176.4" y2="525.5" stroke-width="1.2"/>
<line x1="192.4" y1="519.9" x2="192.4" y2="525.5" stroke-width="1.2"/>
<line x1="208.4" y1="519.9" x2="208.4" y2="525.5" stroke-width="1.2"/>
<line x1="224.3" y1="513.3" x2="224.3" y2="525.5" stroke-width="2.2"/>
<line x1="240.2" y1="519.9" x2="240.2" y2="525.5" stroke-width="1.2"/>
<line x1="256.2" y1="519.9" x2="256.2" y2="525.5" stroke-width="1.2"/>
<line x1="272.1" y1="519.9" x2="272.1" y2="525.5" stroke-width="1.2"/>
<line x1="288.1" y1="519.9" x2="288.1" y2="525.5" stroke-width="1.2"/>
<line x1="304.1" y1="519.9" x2="304.1" y2="525.5" stroke-width="1.2"/>
<line x1="320.0" y1="519.9" x2="320.0" y2="525.5" stroke-width="1.2"/>
<line x1="335.9" y1="519.9" x2="335.9" y2="525.5" stroke-width="1.2"/>
<line x1="351.9" y1="519.9" x2="351.9" y2="525.5" stroke-width="1.2"/>
<line x1="367.9" y1="519.9" x2="367.9" y2="525.5" stroke-width="1.2"/>
<line x1="383.8" y1="513.3" x2="383.8" y2="525.5" stroke-width="2.2"/>
<line x1="399.8" y1="519.9" x2="399.8" y2="525.5" stroke-width="1.2"/>
<line x1="415.7" y1="519.9" x2="415.7" y2="525.5" stroke-width="1.2"/>
<line x1="431.6" y1="519.9" x2="431.6" y2="525.5" stroke-width="1.2"/>
<line x1="447.6" y1="519.9" x2="447.6" y2="525.5" stroke-width="1.2"/>
<line x1="463.6" y1="519.9" x2="463.6" y2="525.5" stroke-width="1.2"/>
<line x1="479.5" y1="519.9" x2="479.5" y2="525.5" stroke-width="1.2"/>
<line x1="495.4" y1="519.9" x2="495.4" y2="525.5" stroke-width="1.2"/>
<line x1="511.4" y1="519.9" x2="511.4" y2="525.5" stroke-width="1.2"/>
<line x1="527.4" y1="519.9" x2="527.4" y2="525.5" stroke-width="1.2"/>
<line x1="543.3" y1="513.3" x2="543.3" y2="525.5" stroke-width="2.2"/>
<line x1="559.2" y1="519.9" x2="559.2" y2="525.5" stroke-width="1.2"/>
<line x1="575.2" y1="519.9" x2="575.2" y2="525.5" stroke-width="1.2"/>
<line x1="591.1" y1="519.9" x2="591.1" y2="525.5" stroke-width="1.2"/>
<line x1="607.1" y1="519.9" x2="607.1" y2="525.5" stroke-width="1.2"/>
<line x1="623.0" y1="519.9" x2="623.0" y2="525.5" stroke-width="1.2"/>
<line x1="639.0" y1="519.9" x2="639.0" y2="525.5" stroke-width="1.2"/>
<line x1="654.9" y1="519.9" x2="654.9" y2="525.5" stroke-width="1.2"/>
<line x1="670.9" y1="519.9" x2="670.9" y2="525.5" stroke-width="1.2"/>
<line x1="686.8" y1="519.9" x2="686.8" y2="525.5" stroke-width="1.2"/>
<line x1="702.8" y1="513.3" x2="702.8" y2="525.5" stroke-width="2.2"/>
<line x1="718.8" y1="519.9" x2="718.8" y2="525.5" stroke-width="1.2"/>
<line x1="734.7" y1="519.9" x2="734.7" y2="525.5" stroke-width="1.2"/>
<line x1="750.6" y1="519.9" x2="750.6" y2="525.5" stroke-width="1.2"/>
<line x1="766.6" y1="519.9" x2="766.6" y2="525.5" stroke-width="1.2"/>
<line x1="782.5" y1="519.9" x2="782.5" y2="525.5" stroke-width="1.2"/>
<line x1="798.5" y1="519.9" x2="798.5" y2="525.5" stroke-width="1.2"/>
<line x1="814.4" y1="519.9" x2="814.4" y2="525.5" stroke-width="1.2"/>
<line x1="830.4" y1="519.9" x2="830.4" y2="525.5" stroke-width="1.2"/>
<line x1="846.3" y1="519.9" x2="846.3" y2="525.5" stroke-width="1.2"/>
<line x1="862.3" y1="513.3" x2="862.3" y2="525.5" stroke-width="2.2"/>
<line x1="878.2" y1="519.9" x2="878.2" y2="525.5" stroke-width="1.2"/>
<line x1="894.2" y1="519.9" x2="894.2" y2="525.5" stroke-width="1.2"/>
<line x1="910.1" y1="519.9" x2="910.1" y2="525.5" stroke-width="1.2"/>
<line x1="926.1" y1="519.9" x2="926.1" y2="525.5" stroke-width="1.2"/>
<line x1="942.0" y1="519.9" x2="942.0" y2="525.5" stroke-width="1.2"/>
<line x1="958.0" y1="519.9" x2="958.0" y2="525.5" stroke-width="1.2"/>
<line x1="973.9" y1="519.9" x2="973.9" y2="525.5" stroke-width="1.2"/>
<line x1="989.9" y1="519.9" x2="989.9" y2="525.5" stroke-width="1.2"/>
<line x1="1005.8" y1="519.9" x2="1005.8" y2="525.5" stroke-width="1.2"/>
<line x1="1021.8" y1="513.3" x2="1021.8" y2="525.5" stroke-width="2.2"/>
<line x1="1037.8" y1="519.9" x2="1037.8" y2="525.5" stroke-width="1.2"/>
<line x1="1053.7" y1="519.9" x2="1053.7" y2="525.5" stroke-width="1.2"/>
</g>
<text transform="translate(65.0,546.6) scale(0.995,1.05)" font-size="17.3" text-anchor="middle">800</text>
<text transform="translate(224.5,546.6) scale(0.995,1.05)" font-size="17.3" text-anchor="middle">1000</text>
<text transform="translate(384.0,546.6) scale(0.995,1.05)" font-size="17.3" text-anchor="middle">1200</text>
<text transform="translate(543.5,546.6) scale(0.995,1.05)" font-size="17.3" text-anchor="middle">1400</text>
<text transform="translate(703.0,546.6) scale(0.995,1.05)" font-size="17.3" text-anchor="middle">1600</text>
<text transform="translate(862.5,546.6) scale(0.995,1.05)" font-size="17.3" text-anchor="middle">1800</text>
<text transform="translate(1022.0,546.6) scale(0.995,1.05)" font-size="17.3" text-anchor="middle">2000</text>
<text transform="translate(530.2,595.2) scale(1.000,1.05)" font-size="17.6" text-anchor="middle">Calibrated date (calAD)</text>
<text transform="translate(3.0,10.8) scale(1.003,0.97)" font-size="10.5">OxCal v4.2.4 Bronk Ramsey (2013); r:5 SHCal13 atmospheric curve (Hogg et al 2013)</text>
</svg>
</body>
</html>
